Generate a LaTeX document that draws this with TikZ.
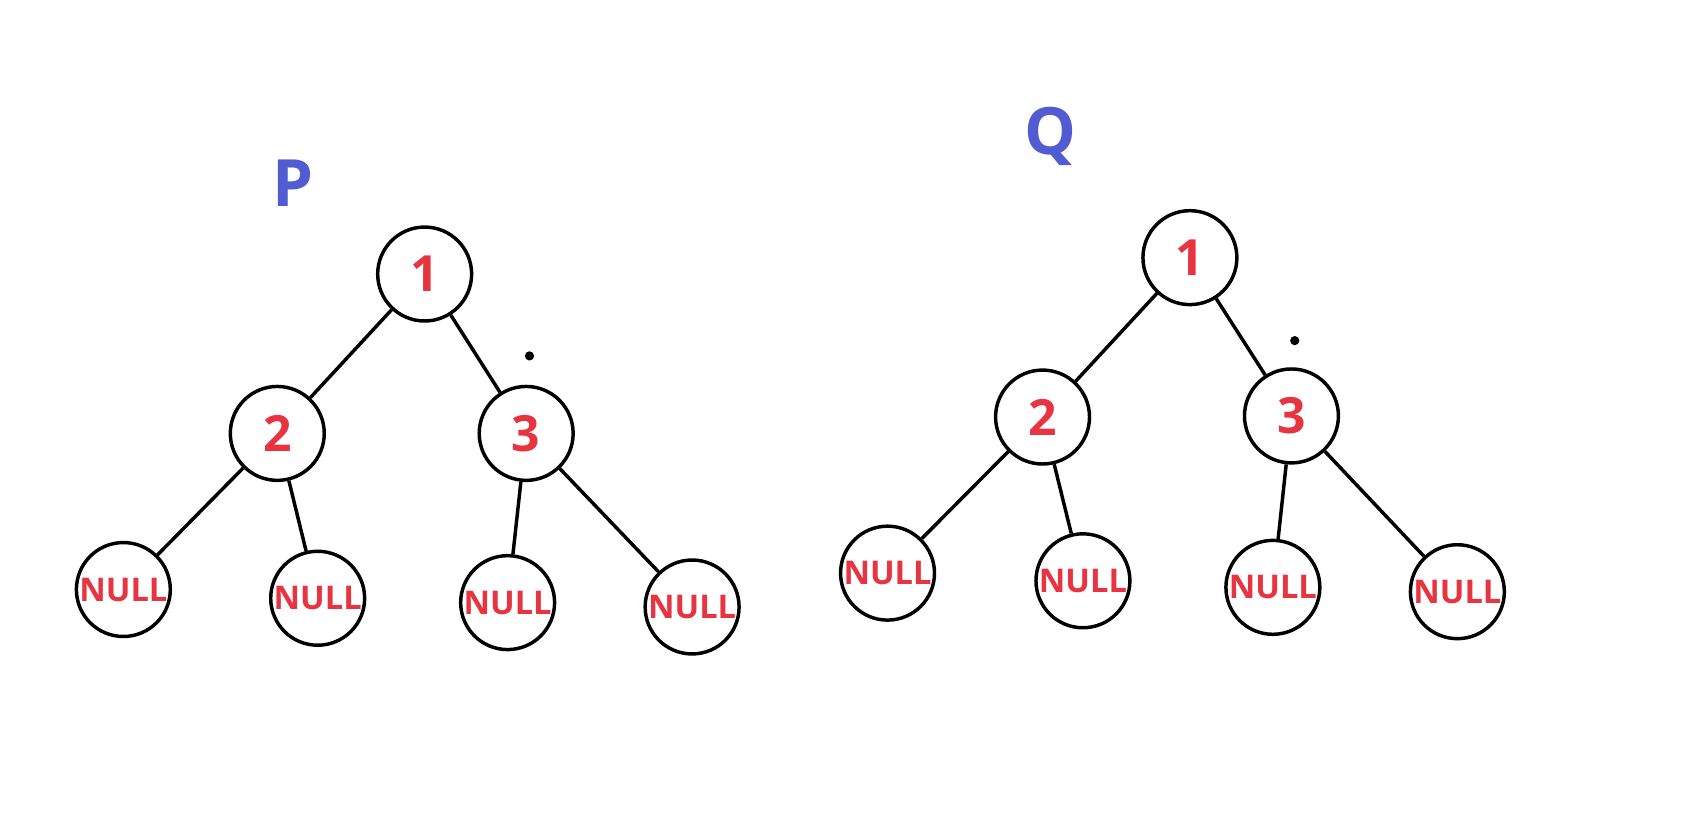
\documentclass[tikz,border=0pt]{standalone}
\usepackage{fontspec}
\setmainfont{Open Sans}
\definecolor{nred}{RGB}{232,52,64}
\definecolor{lblue}{RGB}{82,92,210}
\begin{document}
\begin{tikzpicture}[x=0.01cm,y=-0.01cm,
  tn/.style={circle,draw,line width=0.9pt,minimum size=0.86cm,inner sep=0pt,text=nred,font=\bfseries\fontsize{13}{13}\selectfont},
  nn/.style={tn,font=\bfseries\fontsize{8.5}{9}\selectfont},
  lab/.style={text=lblue,font=\bfseries\fontsize{17}{17}\selectfont},
  ed/.style={line width=0.9pt}]
\useasboundingbox (0,0) rectangle (1560,744);
\node[lab] (P) at (268,168) {P};
\node[lab] (Q) at (962,125) {Q};
% P tree
\node[tn] (p1) at (389,251) {1};
\node[tn] (p2) at (254,397) {2};
\node[tn] (p3) at (482,397) {3};
\node[nn] (pa) at (113,540) {NULL};
\node[nn] (pb) at (291,548) {NULL};
\node[nn] (pc) at (465,552) {NULL};
\node[nn] (pd) at (634,556) {NULL};
\draw[ed] (p1) -- (p2); \draw[ed] (p1) -- (p3);
\draw[ed] (p2) -- (pa); \draw[ed] (p2) -- (pb);
\draw[ed] (p3) -- (pc); \draw[ed] (p3) -- (pd);
% Q tree
\node[tn] (q1) at (1090,236) {1};
\node[tn] (q2) at (955,382) {2};
\node[tn] (q3) at (1183,381) {3};
\node[nn] (qa) at (813,525) {NULL};
\node[nn] (qb) at (992,532) {NULL};
\node[nn] (qc) at (1166,538) {NULL};
\node[nn] (qd) at (1335,542) {NULL};
\draw[ed] (q1) -- (q2); \draw[ed] (q1) -- (q3);
\draw[ed] (q2) -- (qa); \draw[ed] (q2) -- (qb);
\draw[ed] (q3) -- (qc); \draw[ed] (q3) -- (qd);
\fill (485,326) circle (1.2pt);
\fill (1186,312) circle (1.2pt);
\end{tikzpicture}
\end{document}
